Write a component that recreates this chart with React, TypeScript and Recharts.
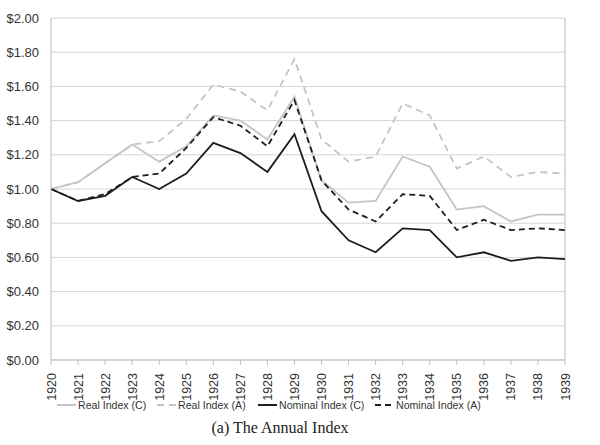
import React from 'react'
import {
  LineChart, Line, XAxis, YAxis, CartesianGrid, Legend, ReferenceLine,
} from 'recharts'

const years = [
  '1920', '1921', '1922', '1923', '1924', '1925', '1926', '1927', '1928', '1929',
  '1930', '1931', '1932', '1933', '1934', '1935', '1936', '1937', '1938', '1939',
]
const realC = [1.00, 1.04, 1.15, 1.26, 1.16, 1.25, 1.43, 1.40, 1.29, 1.54, 1.05, 0.92, 0.93, 1.19, 1.13, 0.88, 0.90, 0.81, 0.85, 0.85]
const realA = [1.00, 1.04, 1.15, 1.26, 1.28, 1.41, 1.61, 1.57, 1.46, 1.76, 1.29, 1.16, 1.19, 1.50, 1.43, 1.12, 1.19, 1.07, 1.10, 1.09]
const nominalC = [1.00, 0.93, 0.96, 1.07, 1.00, 1.09, 1.27, 1.21, 1.10, 1.32, 0.87, 0.70, 0.63, 0.77, 0.76, 0.60, 0.63, 0.58, 0.60, 0.59]
const nominalA = [1.00, 0.93, 0.97, 1.07, 1.09, 1.24, 1.42, 1.37, 1.25, 1.52, 1.05, 0.88, 0.81, 0.97, 0.96, 0.76, 0.82, 0.76, 0.77, 0.76]
const yTicks = [0, 0.2, 0.4, 0.6, 0.8, 1.0, 1.2, 1.4, 1.6, 1.8, 2.0]

const data = years.map((y, i) => ({
  year: y,
  realC: realC[i],
  realA: realA[i],
  nominalC: nominalC[i],
  nominalA: nominalA[i],
}))

const FONT = '"Liberation Sans", Arial, sans-serif'
const GRAY = '#c4c4c4'
const BLACK = '#1e1e1e'
const TEXT = '#333'

const series = [
  { key: 'realC', name: 'Real Index (C)', color: GRAY, dash: undefined, left: 57 },
  { key: 'realA', name: 'Real Index (A)', color: GRAY, dash: '7 5', left: 157 },
  { key: 'nominalC', name: 'Nominal Index (C)', color: BLACK, dash: undefined, left: 258 },
  { key: 'nominalA', name: 'Nominal Index (A)', color: BLACK, dash: '6 4', left: 375 },
]

const YearTick = (props: any) => {
  const { x, y, payload } = props
  return (
    <g transform={`translate(${x},${y + 6})`}>
      <text transform="rotate(-90)" textAnchor="end" dy="0.36em" style={{ fontSize: 12.5, fontFamily: FONT }} fill={TEXT}>
        {payload.value}
      </text>
    </g>
  )
}

const DollarTick = (props: any) => {
  const { y, payload } = props
  return (
    <text x={39} y={y} dy="0.36em" textAnchor="end" style={{ fontSize: 13, fontFamily: FONT }} fill={TEXT}>
      {`$${Number(payload.value).toFixed(2)}`}
    </text>
  )
}

const LegendBox = () => (
  <div style={{ position: 'relative', width: 600, height: 20, fontFamily: FONT, fontSize: 10.6, color: TEXT }}>
    {series.map(s => (
      <div key={s.key} style={{ position: 'absolute', left: s.left, top: 3, display: 'flex', alignItems: 'center' }}>
        <svg width={20} height={12}>
          <line x1={0} y1={6} x2={19} y2={6} stroke={s.color} strokeWidth={2} strokeDasharray={s.dash} />
        </svg>
        <span style={{ marginLeft: 1, whiteSpace: 'nowrap' }}>{s.name}</span>
      </div>
    ))}
  </div>
)

export default function App() {
  return (
    <div style={{ position: 'absolute', left: 0, top: 0, width: 600, height: 445, background: '#fff' }}>
      <LineChart width={600} height={420} data={data} margin={{ top: 18, right: 35, left: 0, bottom: 4 }}>
        <CartesianGrid vertical={false} stroke="#d6d6d6" />
        <XAxis
          dataKey="year"
          interval={0}
          height={36}
          tick={<YearTick />}
          tickSize={5}
          tickLine={{ stroke: '#bdbdbd' }}
          axisLine={{ stroke: '#bdbdbd' }}
        />
        <YAxis
          width={51}
          domain={[0, 2]}
          ticks={yTicks}
          tick={<DollarTick />}
          tickLine={false}
          axisLine={{ stroke: '#bdbdbd' }}
        />
        <ReferenceLine x="1939" stroke="#bdbdbd" />
        <Legend verticalAlign="bottom" height={20} content={() => <LegendBox />} />
        {series.map(s => (
          <Line
            key={s.key}
            type="linear"
            dataKey={s.key}
            name={s.name}
            stroke={s.color}
            strokeWidth={1.8}
            strokeDasharray={s.dash}
            dot={false}
            isAnimationActive={false}
          />
        ))}
      </LineChart>
      <div style={{ position: 'absolute', left: 0, top: 419, width: 600, textAlign: 'center', fontFamily: '"Liberation Serif", "Times New Roman", serif', fontSize: 16, color: '#222' }}>
        <span style={{ marginLeft: -40 }}>(a) The Annual Index</span>
      </div>
    </div>
  )
}
